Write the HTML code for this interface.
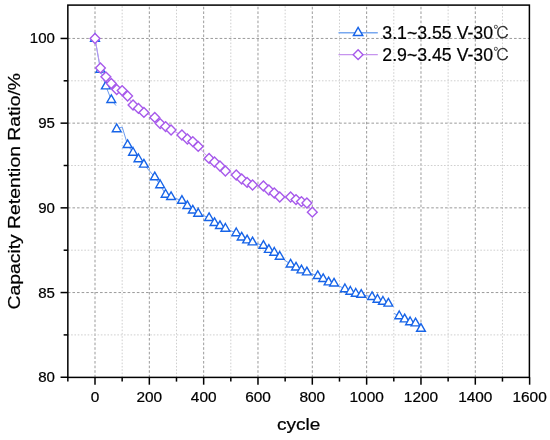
<!DOCTYPE html>
<html><head><meta charset="utf-8"><title>Capacity Retention</title>
<style>html,body{margin:0;padding:0;background:#fff}svg{display:block}text{font-family:'Liberation Sans', sans-serif;fill:#000;stroke:#000;stroke-width:0.22px}</style></head><body>
<svg width="550" height="440" viewBox="0 0 550 440">
<rect width="550" height="440" fill="#fff"/>
<g><line x1="95.00" y1="377.40" x2="95.00" y2="5.10" stroke="#888" stroke-width="0.85" stroke-dasharray="2.6 2"/><line x1="122.16" y1="377.40" x2="122.16" y2="5.10" stroke="#cfcfcf" stroke-width="1" stroke-dasharray="1.6 1.7"/><line x1="149.33" y1="377.40" x2="149.33" y2="5.10" stroke="#888" stroke-width="0.85" stroke-dasharray="2.6 2"/><line x1="176.49" y1="377.40" x2="176.49" y2="5.10" stroke="#cfcfcf" stroke-width="1" stroke-dasharray="1.6 1.7"/><line x1="203.66" y1="377.40" x2="203.66" y2="5.10" stroke="#888" stroke-width="0.85" stroke-dasharray="2.6 2"/><line x1="230.82" y1="377.40" x2="230.82" y2="5.10" stroke="#cfcfcf" stroke-width="1" stroke-dasharray="1.6 1.7"/><line x1="257.98" y1="377.40" x2="257.98" y2="5.10" stroke="#888" stroke-width="0.85" stroke-dasharray="2.6 2"/><line x1="285.15" y1="377.40" x2="285.15" y2="5.10" stroke="#cfcfcf" stroke-width="1" stroke-dasharray="1.6 1.7"/><line x1="312.31" y1="377.40" x2="312.31" y2="5.10" stroke="#888" stroke-width="0.85" stroke-dasharray="2.6 2"/><line x1="339.48" y1="377.40" x2="339.48" y2="5.10" stroke="#cfcfcf" stroke-width="1" stroke-dasharray="1.6 1.7"/><line x1="366.64" y1="377.40" x2="366.64" y2="5.10" stroke="#888" stroke-width="0.85" stroke-dasharray="2.6 2"/><line x1="393.80" y1="377.40" x2="393.80" y2="5.10" stroke="#cfcfcf" stroke-width="1" stroke-dasharray="1.6 1.7"/><line x1="420.97" y1="377.40" x2="420.97" y2="5.10" stroke="#888" stroke-width="0.85" stroke-dasharray="2.6 2"/><line x1="448.13" y1="377.40" x2="448.13" y2="5.10" stroke="#cfcfcf" stroke-width="1" stroke-dasharray="1.6 1.7"/><line x1="475.30" y1="377.40" x2="475.30" y2="5.10" stroke="#888" stroke-width="0.85" stroke-dasharray="2.6 2"/><line x1="502.46" y1="377.40" x2="502.46" y2="5.10" stroke="#cfcfcf" stroke-width="1" stroke-dasharray="1.6 1.7"/><line x1="67.84" y1="334.90" x2="529.40" y2="334.90" stroke="#cfcfcf" stroke-width="1" stroke-dasharray="1.6 1.7"/><line x1="67.84" y1="292.55" x2="529.40" y2="292.55" stroke="#888" stroke-width="0.85" stroke-dasharray="2.6 2"/><line x1="67.84" y1="250.20" x2="529.40" y2="250.20" stroke="#cfcfcf" stroke-width="1" stroke-dasharray="1.6 1.7"/><line x1="67.84" y1="207.85" x2="529.40" y2="207.85" stroke="#888" stroke-width="0.85" stroke-dasharray="2.6 2"/><line x1="67.84" y1="165.50" x2="529.40" y2="165.50" stroke="#cfcfcf" stroke-width="1" stroke-dasharray="1.6 1.7"/><line x1="67.84" y1="123.15" x2="529.40" y2="123.15" stroke="#888" stroke-width="0.85" stroke-dasharray="2.6 2"/><line x1="67.84" y1="80.80" x2="529.40" y2="80.80" stroke="#cfcfcf" stroke-width="1" stroke-dasharray="1.6 1.7"/><line x1="67.84" y1="38.45" x2="529.40" y2="38.45" stroke="#888" stroke-width="0.85" stroke-dasharray="2.6 2"/></g>
<polyline fill="none" stroke="#5A90EC" stroke-width="0.9" points="95.00,38.50 100.43,69.70 105.87,86.20 111.30,99.80 116.00,105.60"/>
<polyline fill="none" stroke="#5A90EC" stroke-width="0.9" points="116.73,129.00 122.20,127.00 127.60,144.80 133.03,152.50 138.46,159.00 143.90,164.40 154.76,177.10 160.19,185.00 165.63,194.50 171.06,196.80 181.92,200.60 187.36,205.80 192.79,210.30 198.22,213.50 209.09,217.80 214.52,222.80 219.95,225.80 225.39,228.50 236.25,233.00 241.69,237.30 247.12,240.20 252.55,242.20 263.42,245.60 268.85,249.70 274.28,252.50 279.72,256.50 290.58,264.30 296.01,267.30 301.45,270.20 306.88,272.20 317.74,275.80 323.18,278.80 328.61,282.20 334.04,283.30 344.91,289.00 350.34,291.50 355.77,293.50 361.21,294.60 372.07,296.80 377.51,299.50 382.94,301.50 388.37,303.40"/>
<polyline fill="none" stroke="#5A90EC" stroke-width="0.9" points="394.00,313.40 399.24,316.00 404.67,319.20 410.10,322.00 415.54,323.20 420.97,328.60"/>
<g fill="#fff" stroke="#1764E8" stroke-width="1.4" stroke-linejoin="miter"><path d="M95.00 33.50L99.40 41.20L90.60 41.20Z"/><path d="M100.43 64.70L104.83 72.40L96.03 72.40Z"/><path d="M105.87 81.20L110.27 88.90L101.47 88.90Z"/><path d="M111.30 94.80L115.70 102.50L106.90 102.50Z"/><path d="M116.73 124.00L121.13 131.70L112.33 131.70Z"/><path d="M127.60 139.80L132.00 147.50L123.20 147.50Z"/><path d="M133.03 147.50L137.43 155.20L128.63 155.20Z"/><path d="M138.46 154.00L142.86 161.70L134.06 161.70Z"/><path d="M143.90 159.40L148.30 167.10L139.50 167.10Z"/><path d="M154.76 172.10L159.16 179.80L150.36 179.80Z"/><path d="M160.19 180.00L164.59 187.70L155.79 187.70Z"/><path d="M165.63 189.50L170.03 197.20L161.23 197.20Z"/><path d="M171.06 191.80L175.46 199.50L166.66 199.50Z"/><path d="M181.92 195.60L186.32 203.30L177.52 203.30Z"/><path d="M187.36 200.80L191.76 208.50L182.96 208.50Z"/><path d="M192.79 205.30L197.19 213.00L188.39 213.00Z"/><path d="M198.22 208.50L202.62 216.20L193.82 216.20Z"/><path d="M209.09 212.80L213.49 220.50L204.69 220.50Z"/><path d="M214.52 217.80L218.92 225.50L210.12 225.50Z"/><path d="M219.95 220.80L224.35 228.50L215.55 228.50Z"/><path d="M225.39 223.50L229.79 231.20L220.99 231.20Z"/><path d="M236.25 228.00L240.65 235.70L231.85 235.70Z"/><path d="M241.69 232.30L246.09 240.00L237.29 240.00Z"/><path d="M247.12 235.20L251.52 242.90L242.72 242.90Z"/><path d="M252.55 237.20L256.95 244.90L248.15 244.90Z"/><path d="M263.42 240.60L267.82 248.30L259.02 248.30Z"/><path d="M268.85 244.70L273.25 252.40L264.45 252.40Z"/><path d="M274.28 247.50L278.68 255.20L269.88 255.20Z"/><path d="M279.72 251.50L284.12 259.20L275.32 259.20Z"/><path d="M290.58 259.30L294.98 267.00L286.18 267.00Z"/><path d="M296.01 262.30L300.41 270.00L291.61 270.00Z"/><path d="M301.45 265.20L305.85 272.90L297.05 272.90Z"/><path d="M306.88 267.20L311.28 274.90L302.48 274.90Z"/><path d="M317.74 270.80L322.14 278.50L313.34 278.50Z"/><path d="M323.18 273.80L327.58 281.50L318.78 281.50Z"/><path d="M328.61 277.20L333.01 284.90L324.21 284.90Z"/><path d="M334.04 278.30L338.44 286.00L329.64 286.00Z"/><path d="M344.91 284.00L349.31 291.70L340.51 291.70Z"/><path d="M350.34 286.50L354.74 294.20L345.94 294.20Z"/><path d="M355.77 288.50L360.17 296.20L351.37 296.20Z"/><path d="M361.21 289.60L365.61 297.30L356.81 297.30Z"/><path d="M372.07 291.80L376.47 299.50L367.67 299.50Z"/><path d="M377.51 294.50L381.91 302.20L373.11 302.20Z"/><path d="M382.94 296.50L387.34 304.20L378.54 304.20Z"/><path d="M388.37 298.40L392.77 306.10L383.97 306.10Z"/><path d="M399.24 311.00L403.64 318.70L394.84 318.70Z"/><path d="M404.67 314.20L409.07 321.90L400.27 321.90Z"/><path d="M410.10 317.00L414.50 324.70L405.70 324.70Z"/><path d="M415.54 318.20L419.94 325.90L411.14 325.90Z"/><path d="M420.97 323.60L425.37 331.30L416.57 331.30Z"/></g>
<polyline fill="none" stroke="#C694EE" stroke-width="0.9" points="95.00,38.50 100.43,68.00 105.87,76.80 111.30,83.50 116.73,89.50 122.16,90.60 127.60,96.00 133.03,105.00 138.46,108.40 143.90,112.40 154.76,117.40 160.19,123.60 165.63,126.60 171.06,130.00 181.92,135.00 187.36,139.00 192.79,141.60 198.22,146.40 209.09,158.40 214.52,162.00 219.95,166.00 225.39,171.00 236.25,175.00 241.69,179.00 247.12,182.40 252.55,185.00 263.42,186.00 268.85,190.00 274.28,193.00 279.72,197.00 290.58,197.00 296.01,199.60 301.45,201.60 306.88,203.00 312.31,212.20"/>
<g fill="#fff" stroke="#A75AEB" stroke-width="1.4" stroke-linejoin="miter"><path d="M95.00 33.60L99.90 38.50L95.00 43.40L90.10 38.50Z"/><path d="M100.43 63.10L105.33 68.00L100.43 72.90L95.53 68.00Z"/><path d="M105.87 71.90L110.77 76.80L105.87 81.70L100.97 76.80Z"/><path d="M111.30 78.60L116.20 83.50L111.30 88.40L106.40 83.50Z"/><path d="M116.73 84.60L121.63 89.50L116.73 94.40L111.83 89.50Z"/><path d="M122.16 85.70L127.06 90.60L122.16 95.50L117.26 90.60Z"/><path d="M127.60 91.10L132.50 96.00L127.60 100.90L122.70 96.00Z"/><path d="M133.03 100.10L137.93 105.00L133.03 109.90L128.13 105.00Z"/><path d="M138.46 103.50L143.36 108.40L138.46 113.30L133.56 108.40Z"/><path d="M143.90 107.50L148.80 112.40L143.90 117.30L139.00 112.40Z"/><path d="M154.76 112.50L159.66 117.40L154.76 122.30L149.86 117.40Z"/><path d="M160.19 118.70L165.09 123.60L160.19 128.50L155.29 123.60Z"/><path d="M165.63 121.70L170.53 126.60L165.63 131.50L160.73 126.60Z"/><path d="M171.06 125.10L175.96 130.00L171.06 134.90L166.16 130.00Z"/><path d="M181.92 130.10L186.82 135.00L181.92 139.90L177.02 135.00Z"/><path d="M187.36 134.10L192.26 139.00L187.36 143.90L182.46 139.00Z"/><path d="M192.79 136.70L197.69 141.60L192.79 146.50L187.89 141.60Z"/><path d="M198.22 141.50L203.12 146.40L198.22 151.30L193.32 146.40Z"/><path d="M209.09 153.50L213.99 158.40L209.09 163.30L204.19 158.40Z"/><path d="M214.52 157.10L219.42 162.00L214.52 166.90L209.62 162.00Z"/><path d="M219.95 161.10L224.85 166.00L219.95 170.90L215.05 166.00Z"/><path d="M225.39 166.10L230.29 171.00L225.39 175.90L220.49 171.00Z"/><path d="M236.25 170.10L241.15 175.00L236.25 179.90L231.35 175.00Z"/><path d="M241.69 174.10L246.59 179.00L241.69 183.90L236.79 179.00Z"/><path d="M247.12 177.50L252.02 182.40L247.12 187.30L242.22 182.40Z"/><path d="M252.55 180.10L257.45 185.00L252.55 189.90L247.65 185.00Z"/><path d="M263.42 181.10L268.32 186.00L263.42 190.90L258.52 186.00Z"/><path d="M268.85 185.10L273.75 190.00L268.85 194.90L263.95 190.00Z"/><path d="M274.28 188.10L279.18 193.00L274.28 197.90L269.38 193.00Z"/><path d="M279.72 192.10L284.62 197.00L279.72 201.90L274.82 197.00Z"/><path d="M290.58 192.10L295.48 197.00L290.58 201.90L285.68 197.00Z"/><path d="M296.01 194.70L300.91 199.60L296.01 204.50L291.11 199.60Z"/><path d="M301.45 196.70L306.35 201.60L301.45 206.50L296.55 201.60Z"/><path d="M306.88 198.10L311.78 203.00L306.88 207.90L301.98 203.00Z"/><path d="M312.31 207.30L317.21 212.20L312.31 217.10L307.41 212.20Z"/></g>
<rect x="67.84" y="5.10" width="461.56" height="372.30" fill="none" stroke="#000" stroke-width="1.5"/>
<g stroke="#000" stroke-width="1.5"><line x1="67.84" y1="377.40" x2="67.84" y2="381.60"/><line x1="95.00" y1="377.40" x2="95.00" y2="384.70"/><line x1="122.16" y1="377.40" x2="122.16" y2="381.60"/><line x1="149.33" y1="377.40" x2="149.33" y2="384.70"/><line x1="176.49" y1="377.40" x2="176.49" y2="381.60"/><line x1="203.66" y1="377.40" x2="203.66" y2="384.70"/><line x1="230.82" y1="377.40" x2="230.82" y2="381.60"/><line x1="257.98" y1="377.40" x2="257.98" y2="384.70"/><line x1="285.15" y1="377.40" x2="285.15" y2="381.60"/><line x1="312.31" y1="377.40" x2="312.31" y2="384.70"/><line x1="339.48" y1="377.40" x2="339.48" y2="381.60"/><line x1="366.64" y1="377.40" x2="366.64" y2="384.70"/><line x1="393.80" y1="377.40" x2="393.80" y2="381.60"/><line x1="420.97" y1="377.40" x2="420.97" y2="384.70"/><line x1="448.13" y1="377.40" x2="448.13" y2="381.60"/><line x1="475.30" y1="377.40" x2="475.30" y2="384.70"/><line x1="502.46" y1="377.40" x2="502.46" y2="381.60"/><line x1="529.62" y1="377.40" x2="529.62" y2="384.70"/><line x1="67.84" y1="377.25" x2="60.54" y2="377.25"/><line x1="67.84" y1="334.90" x2="63.64" y2="334.90"/><line x1="67.84" y1="292.55" x2="60.54" y2="292.55"/><line x1="67.84" y1="250.20" x2="63.64" y2="250.20"/><line x1="67.84" y1="207.85" x2="60.54" y2="207.85"/><line x1="67.84" y1="165.50" x2="63.64" y2="165.50"/><line x1="67.84" y1="123.15" x2="60.54" y2="123.15"/><line x1="67.84" y1="80.80" x2="63.64" y2="80.80"/><line x1="67.84" y1="38.45" x2="60.54" y2="38.45"/></g>
<g><text transform="translate(95.00 402) scale(1.100 1)" text-anchor="middle" font-size="14">0</text><text transform="translate(149.33 402) scale(1.100 1)" text-anchor="middle" font-size="14">200</text><text transform="translate(203.66 402) scale(1.100 1)" text-anchor="middle" font-size="14">400</text><text transform="translate(257.98 402) scale(1.100 1)" text-anchor="middle" font-size="14">600</text><text transform="translate(312.31 402) scale(1.100 1)" text-anchor="middle" font-size="14">800</text><text transform="translate(366.64 402) scale(1.100 1)" text-anchor="middle" font-size="14">1000</text><text transform="translate(420.97 402) scale(1.100 1)" text-anchor="middle" font-size="14">1200</text><text transform="translate(475.30 402) scale(1.100 1)" text-anchor="middle" font-size="14">1400</text><text transform="translate(529.62 402) scale(1.100 1)" text-anchor="middle" font-size="14">1600</text><text transform="translate(54.9 382.25) scale(1.075 1)" text-anchor="end" font-size="14">80</text><text transform="translate(54.9 297.55) scale(1.075 1)" text-anchor="end" font-size="14">85</text><text transform="translate(54.9 212.85) scale(1.075 1)" text-anchor="end" font-size="14">90</text><text transform="translate(54.9 128.15) scale(1.075 1)" text-anchor="end" font-size="14">95</text><text transform="translate(54.9 43.45) scale(1.075 1)" text-anchor="end" font-size="14">100</text></g>
<text id="xt" transform="translate(298.62 429.6) scale(1.16 1)" text-anchor="middle" font-size="16.4">cycle</text>
<text id="yt" transform="translate(20 191.25) rotate(-90) scale(1.125 1)" text-anchor="middle" font-size="17.2">Capacity Retention Ratio/%</text>
<line x1="338.5" y1="32.75" x2="377.8" y2="32.75" stroke="#78A8F0" stroke-width="1.3"/>
<g fill="#fff" stroke="#1764E8" stroke-width="1.4"><path d="M358.1 27.4L362.8 35.55L353.4 35.55Z"/></g>
<line x1="338.5" y1="54.7" x2="377.8" y2="54.7" stroke="#C694EE" stroke-width="1.3"/>
<g fill="#fff" stroke="#A75AEB" stroke-width="1.4"><path d="M358.10 49.80L363.00 54.70L358.10 59.60L353.20 54.70Z"/></g>
<text id="l1" transform="translate(382.3 38.7) scale(0.99 1)" font-size="17.9">3.1~3.55 V-30<tspan font-family="IPAGothic,'Noto Sans CJK SC',sans-serif" font-size="17.2" dx="0" fill="#333" stroke="none">℃</tspan></text>
<text id="l2" transform="translate(382.3 60.7) scale(0.99 1)" font-size="17.9">2.9~3.45 V-30<tspan font-family="IPAGothic,'Noto Sans CJK SC',sans-serif" font-size="17.2" dx="0" fill="#333" stroke="none">℃</tspan></text>
</svg></body></html>
